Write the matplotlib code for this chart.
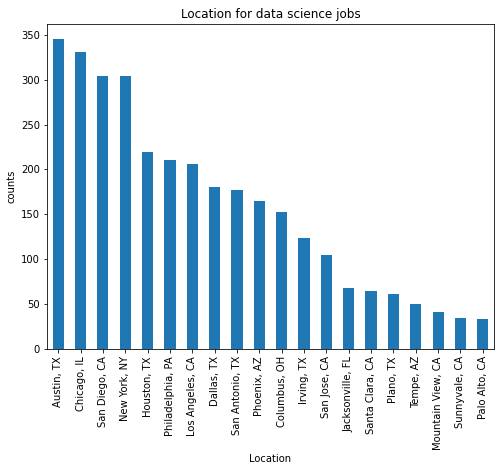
import matplotlib
matplotlib.use("Agg")
import matplotlib.pyplot as plt
import numpy as np

locations = ['Austin, TX', 'Chicago, IL', 'San Diego, CA', 'New York, NY', 'Houston, TX',
             'Philadelphia, PA', 'Los Angeles, CA', 'Dallas, TX', 'San Antonio, TX',
             'Phoenix, AZ', 'Columbus, OH', 'Irving, TX', 'San Jose, CA', 'Jacksonville, FL',
             'Santa Clara, CA', 'Plano, TX', 'Tempe, AZ', 'Mountain View, CA',
             'Sunnyvale, CA', 'Palo Alto, CA']
counts = [345, 331, 304, 304, 220, 211, 206, 181, 177, 165,
          153, 124, 105, 68, 65, 61, 50, 41, 35, 33]

fig = plt.figure(figsize=(500 / 72, 471 / 72), dpi=72)
ax = fig.add_axes([0.094, 0.259, 0.894, 0.690])

x = np.arange(len(locations))
ax.bar(x, counts, width=0.5, color='#1f77b4')
ax.set_xticks(x)
ax.set_xticklabels(locations, rotation=90)
ax.set_xlim(-0.5, len(locations) - 0.5)
ax.set_ylim(0, 362)
ax.set_xlabel('Location')
ax.set_ylabel('counts')
ax.set_title('Location for data science jobs')

fig.savefig('out.png', dpi=72)
